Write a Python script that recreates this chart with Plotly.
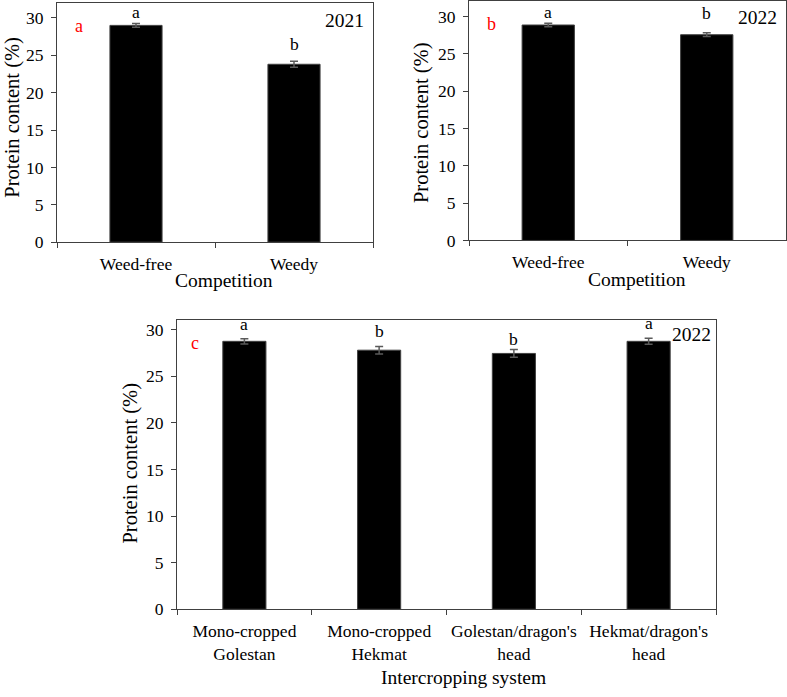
import plotly.graph_objects as go

# ---------------- data ----------------
comp_cats = ["Weed-free", "Weedy"]
a_values = [29.0, 23.8]
a_errors = [0.25, 0.4]
a_letters = ["a", "b"]

b_values = [28.85, 27.55]
b_errors = [0.22, 0.25]
b_letters = ["a", "b"]

c_cats = ["Mono-cropped<br>Golestan", "Mono-cropped<br>Hekmat",
          "Golestan/dragon's<br>head", "Hekmat/dragon's<br>head"]
c_values = [28.75, 27.8, 27.45, 28.75]
c_errors = [0.28, 0.4, 0.42, 0.32]
c_letters = ["a", "b", "b", "a"]

# ---------------- layout helpers ----------------
W, H = 787, 697
FONT = "Liberation Serif, Times New Roman, serif"
AX = "#404040"


def px(x):
    return x / W


def py(y):
    return 1 - y / H


fig = go.Figure()

bar_style = dict(marker=dict(color="black", line=dict(color=AX, width=1)),
                 showlegend=False, hoverinfo="skip")
err_style = dict(type="data", color="#5a5a5a", thickness=1.5, width=4, visible=True)

fig.add_trace(go.Bar(x=comp_cats, y=a_values, width=0.33, xaxis="x", yaxis="y",
                     error_y=dict(array=a_errors, **err_style), **bar_style))
fig.add_trace(go.Bar(x=comp_cats, y=b_values, width=0.33, xaxis="x2", yaxis="y2",
                     error_y=dict(array=b_errors, **err_style), **bar_style))
fig.add_trace(go.Bar(x=c_cats, y=c_values, width=0.32, xaxis="x3", yaxis="y3",
                     error_y=dict(array=c_errors, **err_style), **bar_style))


def xax(domain, anchor):
    return dict(domain=domain, anchor=anchor, type="category",
                showline=True, mirror=True, linecolor=AX, linewidth=1,
                ticks="outside", ticklen=5, tickcolor=AX, tickson="boundaries",
                showgrid=False, zeroline=False, ticklabelstandoff=6, tickangle=0,
                tickfont=dict(family=FONT, size=17.5, color="black"), fixedrange=True)


def yax(domain, anchor, rng):
    return dict(domain=domain, anchor=anchor, range=rng, dtick=5, tick0=0,
                showline=True, mirror=True, linecolor=AX, linewidth=1,
                ticks="outside", ticklen=5, tickcolor=AX,
                showgrid=False, zeroline=False, ticklabelstandoff=4,
                tickfont=dict(family=FONT, size=17.5, color="black"), fixedrange=True)


fig.update_layout(
    width=W, height=H, autosize=False,
    margin=dict(l=0, r=0, t=0, b=0),
    paper_bgcolor="white", plot_bgcolor="white",
    font=dict(family=FONT, color="black"),
    xaxis=xax([px(57), px(373)], "y"),
    yaxis=yax([py(245), py(2)], "x", [0, 32]),
    xaxis2=xax([px(469), px(786)], "y2"),
    yaxis2=yax([py(243.3), py(0.5)], "x2", [0, 32]),
    xaxis3=xax([px(177), px(716)], "y3"),
    yaxis3=yax([py(618), py(324)], "x3", [0, 31.05]),
)

ann = []


def txt(text, x, y, size, color="black", xanchor="center", yanchor="middle", angle=0):
    ann.append(dict(text=text, x=px(x), y=py(y), xref="paper", yref="paper",
                    showarrow=False, xanchor=xanchor, yanchor=yanchor, borderpad=0,
                    textangle=angle, font=dict(family=FONT, size=size, color=color)))


# axis titles
txt("Competition", 224, 284, 19.5)
txt("Competition", 637, 283, 19.5)
txt("Intercropping system", 463, 687, 19.5)
txt("Protein content (%)", 0, 118, 20.5, angle=-90, xanchor="left")
txt("Protein content (%)", 421, 123, 20.5, angle=-90)
txt("Protein content (%)", 131, 470, 20.5, angle=-90)

# panel tags and years
txt("a", 79, 25, 18, color="red")
txt("b", 491, 23, 18, color="red")
txt("c", 195, 347, 18, color="red")
txt("2021", 365, 20, 19.5, xanchor="right")
txt("2022", 778, 17, 19.5, xanchor="right")
txt("2022", 712, 339, 19.5, xanchor="right")


# significance letters placed above the error bars
def letters(cats, vals, errs, labs, xr, yr, shifts):
    for c, v, e, l, s in zip(cats, vals, errs, labs, shifts):
        ann.append(dict(text=l, x=c, y=v + e, xref=xr, yref=yr, showarrow=False,
                        xanchor="center", yanchor="bottom", yshift=s,
                        font=dict(family=FONT, size=17.5, color="black")))


letters(comp_cats, a_values, a_errors, a_letters, "x", "y", [0, 5])
letters(comp_cats, b_values, b_errors, b_letters, "x2", "y2", [-1, 8])
letters(c_cats, c_values, c_errors, c_letters, "x3", "y3", [3, 3, -1, 3])

fig.update_layout(annotations=ann)

fig.write_html(
    "out.html",
    config={"displayModeBar": False},
    post_script="document.body.style.margin='0';document.body.style.overflow='hidden';",
)
